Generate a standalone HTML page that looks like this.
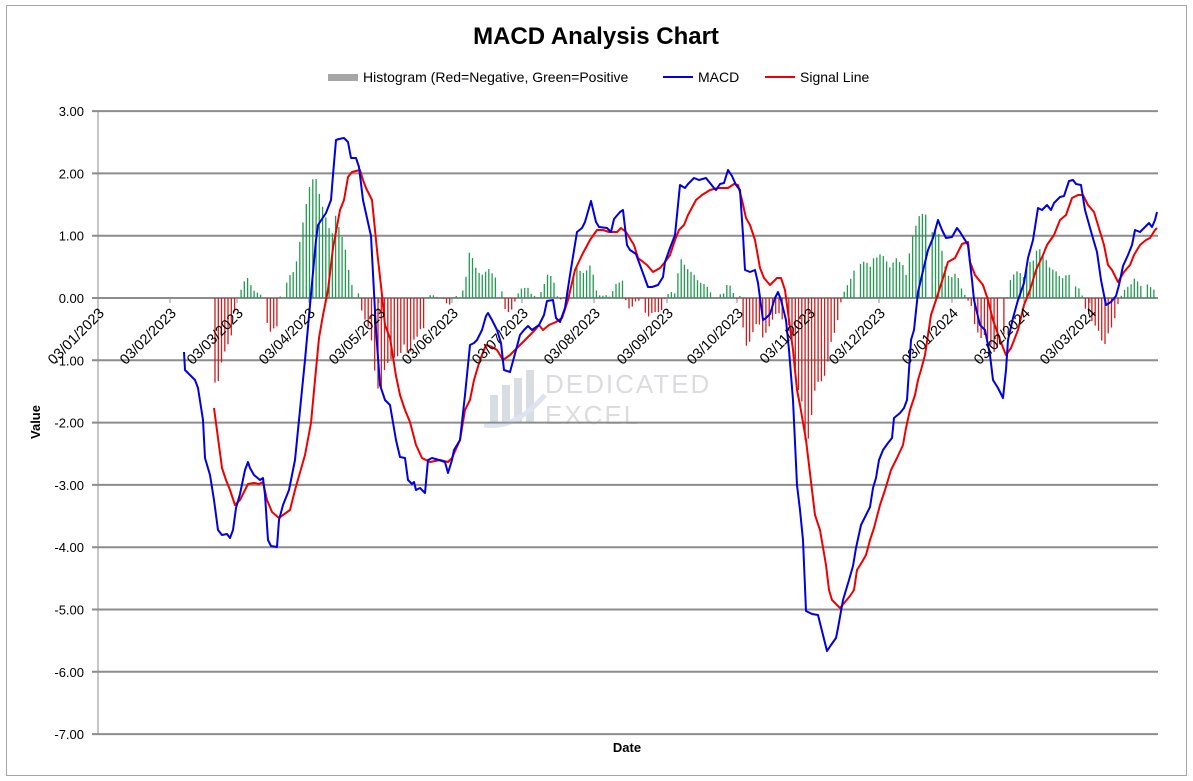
<!DOCTYPE html>
<html><head><meta charset="utf-8"><style>
body{margin:0;background:#fff;}
svg{display:block;font-family:"Liberation Sans",sans-serif;}
</style></head><body>
<svg id="s" width="1193" height="781" xmlns="http://www.w3.org/2000/svg">
<rect x="0" y="0" width="1193" height="781" fill="#fff"/>
<rect x="6.5" y="5.5" width="1180" height="770" fill="none" stroke="#a6a6a6" stroke-width="1"/>
<text x="596" y="44" text-anchor="middle" font-size="24" font-weight="bold" fill="#000">MACD Analysis Chart</text>
<rect x="328" y="74" width="30" height="7" fill="#a6a6a6"/>
<text x="363" y="82" font-size="14" fill="#000">Histogram (Red=Negative, Green=Positive</text>
<line x1="663" y1="77" x2="693" y2="77" stroke="#0000e0" stroke-width="2"/>
<text x="698" y="82" font-size="14" fill="#000">MACD</text>
<line x1="765" y1="77" x2="795" y2="77" stroke="#ee0000" stroke-width="2"/>
<text x="800" y="82" font-size="14" fill="#000">Signal Line</text>
<g id="grid"></g>
<g opacity="0.3">
<rect x="490" y="395" width="8" height="28" fill="#8090a8"/>
<rect x="502" y="385" width="8" height="38" fill="#8090a8"/>
<rect x="514" y="378" width="8" height="45" fill="#8090a8"/>
<rect x="526" y="370" width="8" height="53" fill="#8090a8"/>
<path d="M484 425 Q515 430 545 395" stroke="#90a8d0" stroke-width="5" fill="none"/>
<text x="545" y="393" font-size="26" fill="#8a8f98" letter-spacing="2">DEDICATED</text>
<text x="545" y="424" font-size="26" fill="#8a8f98" letter-spacing="2">EXCEL</text>
</g>
<g id="hist"></g>
<polyline id="sig" fill="none" stroke="#ee0000" stroke-width="2" stroke-linejoin="round"/>
<polyline id="macd" fill="none" stroke="#0000e0" stroke-width="2" stroke-linejoin="round"/>
<g id="xl"></g>
<text transform="translate(40,422) rotate(-90)" text-anchor="middle" font-size="13" font-weight="bold">Value</text>
<text x="627" y="752" text-anchor="middle" font-size="13" font-weight="bold">Date</text>
</svg>
<script>
var NS="http://www.w3.org/2000/svg";
function el(p,t,a,txt){var e=document.createElementNS(NS,t);for(var k in a)e.setAttribute(k,a[k]);if(txt!=null)e.textContent=txt;document.getElementById(p).appendChild(e);return e;}
function Y(v){return 298-v*62.3;}
for(var v=3;v>=-7;v--){var y=Y(v);el('grid','line',{x1:92,x2:1158,y1:y,y2:y,stroke:'#8c8c8c','stroke-width':2});
el('grid','text',{x:84,y:y+5,'text-anchor':'end','font-size':13},v.toFixed(2));}
el('grid','line',{x1:98,x2:98,y1:111,y2:734,stroke:'#8c8c8c','stroke-width':1});
var ticks=[98,170,237,309,379,452,522,594,667,737,809,879,952,1024,1090];
var labs=["03/01/2023","03/02/2023","03/03/2023","03/04/2023","03/05/2023","03/06/2023","03/07/2023","03/08/2023","03/09/2023","03/10/2023","03/11/2023","03/12/2023","03/01/2024","03/02/2024","03/03/2024"];
ticks.forEach(function(x,i){el('grid','line',{x1:x,x2:x,y1:298,y2:303,stroke:'#8c8c8c','stroke-width':1});
el('xl','text',{transform:'translate('+(x+7)+',314) rotate(-45)','text-anchor':'end','font-size':14.5},labs[i]);});
var M=[[184,352],[185,370],[195,380],[198,388],[203,420],[205,458],[210,475],[214,500],[218,530],[222,535],[227,534],[230,538],[233,530],[236,508],[240,494],[245,470],[248,462],[250,468],[254,475],[260,480],[263,478],[265,495],[268,540],[271,546],[277,547],[279,520],[283,505],[289,490],[295,460],[300,410],[305,360],[310,305],[316,240],[318,225],[326,213],[331,200],[333,175],[336,140],[339,139],[344,138],[348,142],[351,158],[356,158],[359,167],[363,200],[367,218],[371,236],[376,330],[380,385],[385,400],[390,405],[396,440],[400,457],[405,458],[408,480],[412,484],[414,482],[416,490],[420,488],[425,493],[428,460],[432,458],[439,460],[445,462],[448,473],[452,460],[454,450],[460,440],[465,395],[470,345],[474,343],[477,340],[482,330],[486,316],[488,313],[492,320],[497,330],[501,343],[504,370],[510,372],[516,350],[520,335],[524,330],[528,326],[532,330],[539,325],[544,315],[547,301],[553,300],[556,318],[560,322],[565,308],[570,275],[577,232],[582,228],[585,222],[591,201],[596,222],[599,227],[607,228],[611,232],[614,219],[620,212],[623,210],[627,245],[630,250],[636,254],[640,265],[644,276],[648,287],[652,287],[658,285],[663,277],[665,262],[670,248],[675,235],[680,185],[685,188],[688,184],[694,178],[699,180],[706,178],[714,188],[716,190],[720,184],[724,183],[728,170],[732,176],[736,185],[740,190],[743,235],[745,270],[750,272],[755,270],[758,283],[763,320],[766,318],[770,314],[775,298],[778,292],[781,300],[786,320],[789,350],[793,400],[797,485],[800,510],[803,540],[806,611],[812,614],[818,615],[823,635],[827,651],[831,645],[836,638],[838,628],[843,600],[846,590],[849,580],[853,566],[856,548],[861,525],[866,515],[870,507],[873,488],[876,478],[879,460],[883,450],[888,443],[892,438],[894,418],[900,413],[904,408],[907,400],[911,340],[914,330],[918,292],[922,275],[928,250],[933,238],[938,220],[942,230],[946,238],[952,237],[957,228],[960,232],[965,240],[968,245],[972,280],[974,300],[980,325],[985,330],[990,355],[993,380],[998,388],[1003,398],[1006,370],[1008,340],[1013,318],[1018,300],[1024,283],[1028,258],[1033,240],[1038,208],[1042,210],[1047,205],[1051,210],[1054,203],[1060,197],[1064,196],[1069,181],[1073,180],[1076,184],[1081,185],[1085,210],[1092,235],[1097,252],[1101,280],[1106,305],[1111,302],[1116,296],[1119,285],[1123,266],[1128,255],[1132,245],[1135,230],[1140,232],[1145,227],[1149,223],[1152,227],[1155,220],[1157,212]];
var S=[[214,408],[218,438],[222,468],[226,480],[230,490],[235,505],[240,500],[244,492],[248,484],[254,483],[259,484],[263,482],[267,500],[272,512],[279,518],[283,515],[290,510],[295,490],[305,455],[311,423],[315,380],[319,338],[323,315],[328,290],[333,248],[340,210],[344,200],[348,177],[352,172],[360,170],[363,180],[366,188],[372,200],[377,250],[382,295],[385,325],[390,338],[396,376],[400,395],[405,410],[410,422],[416,445],[422,458],[430,462],[440,460],[448,462],[452,458],[460,440],[465,410],[470,400],[474,380],[480,360],[486,345],[492,347],[497,350],[503,360],[510,355],[520,345],[525,340],[535,330],[539,325],[543,330],[549,325],[556,322],[562,318],[568,300],[575,270],[582,255],[590,240],[597,230],[603,230],[609,232],[617,232],[621,228],[626,232],[634,245],[638,258],[647,265],[653,272],[660,268],[665,262],[670,255],[675,240],[679,230],[684,225],[688,215],[696,200],[702,195],[710,190],[718,188],[728,188],[734,184],[738,185],[742,200],[746,218],[750,225],[755,240],[760,268],[764,278],[770,285],[777,278],[781,278],[785,290],[789,320],[793,350],[797,390],[800,405],[806,440],[812,490],[815,515],[820,530],[826,565],[829,590],[832,600],[835,603],[840,608],[845,602],[850,596],[854,590],[857,570],[862,562],[866,555],[870,540],[874,528],[880,505],[885,490],[891,470],[897,458],[903,445],[906,428],[910,410],[915,395],[918,380],[921,370],[925,355],[931,315],[936,300],[943,278],[948,262],[955,258],[962,244],[968,242],[970,262],[975,275],[983,285],[988,300],[993,320],[1000,340],[1006,355],[1011,348],[1018,330],[1024,305],[1030,290],[1036,270],[1043,255],[1047,245],[1054,235],[1060,220],[1066,215],[1072,198],[1078,195],[1083,195],[1088,205],[1094,212],[1098,225],[1104,245],[1108,265],[1112,270],[1118,282],[1124,272],[1130,265],[1134,255],[1140,245],[1146,240],[1150,238],[1155,230],[1157,228]];
function pts(a){return a.map(function(p){return p[0]+','+p[1]}).join(' ');}
document.getElementById('macd').setAttribute('points',pts(M));
document.getElementById('sig').setAttribute('points',pts(S));
function interp(a,x){for(var i=1;i<a.length;i++){if(a[i][0]>=x){var p=a[i-1],q=a[i],t=(x-p[0])/((q[0]-p[0])||1);return p[1]+t*(q[1]-p[1]);}}return a[a.length-1][1];}
var i=0;
for(var x=215;x<=1157;x+=3.26){i++;if(i%22==0)continue;
var d=interp(S,x)-interp(M,x);
var h=d*0.92;
el('hist','line',{x1:x.toFixed(1),x2:x.toFixed(1),y1:298,y2:(298-h).toFixed(1),stroke:h>=0?'#1f9a4f':'#cc1f1f','stroke-width':1.3});}
</script>
</body></html>
